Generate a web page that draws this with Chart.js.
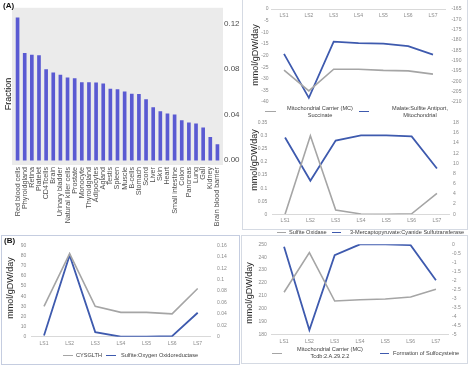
<!DOCTYPE html>
<html><head><meta charset="utf-8">
<script src="https://cdn.jsdelivr.net/npm/chart.js@4.4.1/dist/chart.umd.min.js"></script>
<style>
html,body{margin:0;padding:0;background:#fff;}
#wrap{position:relative;width:474px;height:366px;overflow:hidden;background:#fff;font-family:"Liberation Sans",Arial,sans-serif;}
canvas{position:absolute;}
.t{position:absolute;white-space:nowrap;color:#404040;font-size:5.6px;line-height:7px;}
.c{transform:translateX(-50%);text-align:center;}
.frame{position:absolute;box-sizing:border-box;border:1px solid #d5dae3;}
.rot{position:absolute;transform:translate(-50%,-50%) rotate(-90deg);white-space:nowrap;color:#262626;font-size:9px;line-height:10px;}
.ln{position:absolute;height:0;border-top:1.6px solid;}
.lab{position:absolute;font-weight:bold;font-size:8px;color:#111;}
</style></head>
<body>
<div id="wrap">
  <div class="frame" style="left:242px;top:-1px;width:226px;height:231px;"></div>
  <div class="frame" style="left:1px;top:235px;width:239px;height:130px;border-color:#c5cde0;"></div>
  <div class="frame" style="left:241px;top:235px;width:227px;height:129px;"></div>

  <canvas id="cA"></canvas>
  <canvas id="c1"></canvas>
  <canvas id="c2"></canvas>
  <canvas id="cB"></canvas>
  <canvas id="c3"></canvas>

  <div class="lab" style="left:3px;top:1px;">(A)</div>
  <div class="lab" style="left:4px;top:236px;">(B)</div>
  <div class="rot" style="left:8px;top:94px;color:#111;font-size:9px;">Fraction</div>
  <div class="rot" style="left:255px;top:55px;">mmol/gDW/day</div>
  <div class="rot" style="left:254px;top:160px;">mmol/gDW/day</div>
  <div class="rot" style="left:10px;top:288px;">mmol/gDW/day</div>
  <div class="rot" style="left:249px;top:293px;">mmol/gDW/day</div>

  <!-- legend panel 1 -->
  <div class="ln" style="left:265px;top:111px;width:11px;border-color:#a5a5a5;"></div>
  <div class="t c" style="left:320px;top:104.5px;">Mitochondrial Carrier (MC)<br>Succinate</div>
  <div class="ln" style="left:359px;top:111px;width:10px;border-color:#3e5aae;"></div>
  <div class="t c" style="left:420px;top:104.5px;">Malate:Sulfite Antiport,<br>Mitochondrial</div>
  <!-- legend panel 2 -->
  <div class="ln" style="left:277px;top:232px;width:9px;border-color:#a5a5a5;"></div>
  <div class="t" style="left:289px;top:229px;">Sulfite Oxidase</div>
  <div class="ln" style="left:332px;top:232px;width:9px;border-color:#3e5aae;"></div>
  <div class="t" style="left:350px;top:229px;">3-Mercaptopyruvate:Cyanide Sulfutransferase</div>
  <!-- legend panel B -->
  <div class="ln" style="left:63px;top:355px;width:10px;border-color:#a5a5a5;"></div>
  <div class="t" style="left:76px;top:352px;">CYSGLTH</div>
  <div class="ln" style="left:106px;top:355px;width:10px;border-color:#3e5aae;"></div>
  <div class="t" style="left:121px;top:352px;">Sulfite:Oxygen Oxidoreductase</div>
  <!-- legend panel 3 -->
  <div class="ln" style="left:272px;top:352.5px;width:10px;border-color:#a5a5a5;"></div>
  <div class="t c" style="left:330px;top:345.5px;">Mitochondrial Carrier (MC)<br>Tcdb:2.A.29.2.2</div>
  <div class="ln" style="left:380px;top:352.5px;width:9px;border-color:#3e5aae;"></div>
  <div class="t" style="left:393px;top:349.5px;">Formation of Sulfocysteine</div>
</div>
<script>
// ---- Panel A data ----
const tissues = ['Red blood cells','Phyroidgland','Retina','Platelet','CD4Tcells','Brain','Urinary bladder','Natural killer cells','Prostate','Monocyte','Thyroidgland','Adipocytes','Agland','Testis','Spleen','Muscle','B-cells','Stomach','Scord','Liver','Skin','Heart','Small intestine','Colon','Pancreas','Lung','Gall','Kidney','Brain blood barrier'];
const fraction = [0.1248,0.0936,0.0922,0.0916,0.0794,0.0766,0.0746,0.0721,0.0715,0.0681,0.0681,0.0678,0.0670,0.0624,0.0619,0.0599,0.0579,0.0576,0.0530,0.0460,0.0426,0.0406,0.0397,0.0346,0.0326,0.0318,0.0284,0.0199,0.0136];
const fractionTicks = [0, 0.04, 0.08, 0.12];

// ---- line panels data ----
const stages = ['LS1','LS2','LS3','LS4','LS5','LS6','LS7'];
const mcSuccinate   = [-26.3,-35.2,-25.9,-25.9,-26.4,-26.6,-28.0];
const malateSulfite = [-186.7,-208.0,-180.8,-181.5,-181.8,-183.0,-187.1];
const sulfiteOxidase = [0.0,0.30,0.016,0.001,0.0,0.002,0.08];
const mercaptoSulfur = [15.1,6.6,14.5,15.5,15.5,15.3,9.0];
const cysglth    = [30,82,30,24,24,22.5,47.6];
const sulfiteOxy = [0.002,0.143,0.008,0.0,0.0,0.001,0.042];
const mcTcdb        = [212.7,243.5,205.9,206.9,207.5,209.0,215.0];
const sulfocysteine = [-0.13,-4.76,-0.6,0.0,0.0,-0.05,-2.0];

const GRAY='#a5a5a5', BLUE='#3e5aae';
const FAM='"Liberation Sans", Arial, sans-serif';
const TICK_FONT={family:FAM,size:5};
const TICK_COLOR='#8a8a8a';
const fmt = v => String(Math.round(v*10000)/10000);

function place(id, box){
  const c=document.getElementById(id);
  c.style.left=box[0]+'px'; c.style.top=box[1]+'px';
  c.width=box[2]; c.height=box[3];
  return c;
}

function lineChart(id, box, area, s1, s2, left, right, xTop, xPad){
  const [cx,cy,cw,ch]=box; const [L,T,R,B]=area;
  const c=place(id,box);
  return new Chart(c,{type:'line',
    data:{labels:stages,datasets:[
      {data:s1,borderColor:GRAY,borderWidth:1.6,pointRadius:0,yAxisID:'y',fill:false,tension:0},
      {data:s2,borderColor:BLUE,borderWidth:1.8,pointRadius:0,yAxisID:'y1',fill:false,tension:0}]},
    options:{responsive:false,animation:false,devicePixelRatio:1,
      layout:{padding:{left:0,right:0,top:T-cy,bottom:xTop?(cy+ch-B):0}},
      plugins:{legend:{display:false},tooltip:{enabled:false}},
      scales:{
        x:{position: xTop?{y:0}:'bottom', offset:true,
           grid:{display:false,drawTicks:false},
           border:{display:true,color:'#d9d9d9',width:1},
           ticks:{font:TICK_FONT,color:TICK_COLOR,padding:xPad,maxRotation:0,minRotation:0,autoSkip:false},
           afterFit:s=>{ if(!xTop) s.height=cy+ch-B; }},
        y:{position:'left',min:left.min,max:left.max,
           ticks:{stepSize:left.step,font:TICK_FONT,color:TICK_COLOR,padding:left.pad,callback:fmt},
           grid:{display:false,drawTicks:false},border:{display:false},
           afterFit:s=>{s.width=L-cx;}},
        y1:{position:'right',min:right.min,max:right.max,
           ticks:{stepSize:right.step,font:TICK_FONT,color:TICK_COLOR,padding:right.pad,callback:fmt},
           grid:{display:false,drawTicks:false},border:{display:false},
           afterFit:s=>{s.width=cx+cw-R;}}
      }}});
}

// Panel A bar chart
const bgPlugin={id:'bg',beforeDraw(ch){const a=ch.chartArea,x=ch.ctx;x.save();x.fillStyle='#ebebeb';x.fillRect(a.left-2,a.top,a.right-a.left+4,a.bottom-a.top);x.restore();}};
(function(){
  const box=[0,0,240,230]; const L=14, R=221, T=3, B=165;
  const c=place('cA',box);
  new Chart(c,{type:'bar',
    data:{labels:tissues,datasets:[{data:fraction,backgroundColor:'#5a5ad2',barThickness:3}]},
    options:{responsive:false,animation:false,devicePixelRatio:1,
      layout:{padding:{left:L,top:T,right:0,bottom:0}},
      plugins:{legend:{display:false},tooltip:{enabled:false}},
      scales:{
        x:{offset:true,grid:{display:false,drawTicks:false},border:{display:false},
           ticks:{minRotation:90,maxRotation:90,autoSkip:false,padding:2,color:'#4d4d4d',font:{family:FAM,size:7.2}},
           afterFit:s=>{s.height=230-B;}},
        y:{position:'right',min:-0.0043,max:0.1336,
           afterBuildTicks:s=>{s.ticks=fractionTicks.map(v=>({value:v}));},
           ticks:{padding:3,color:'#4d4d4d',font:{family:FAM,size:8},callback:v=>v.toFixed(2)},
           grid:{display:false,drawTicks:false},border:{display:false},
           afterFit:s=>{s.width=240-R;}}
      }},
    plugins:[bgPlugin]});
})();

lineChart('c1',[240,0,230,112],[271.6,3,445.4,102],mcSuccinate,malateSulfite,
  {min:-40,max:0,step:5,pad:3},{min:-210,max:-165,step:5,pad:6},true,4);
lineChart('c2',[240,112,230,120],[272.4,122.7,449.6,214.3],sulfiteOxidase,mercaptoSulfur,
  {min:0,max:0.35,step:0.05,pad:5},{min:0,max:18,step:2,pad:3.5},false,3);
lineChart('cB',[0,236,240,130],[31.2,243.3,210.5,336.7],cysglth,sulfiteOxy,
  {min:0,max:90,step:10,pad:5},{min:0,max:0.16,step:0.02,pad:6.5},false,4);
lineChart('c3',[240,236,230,130],[271.4,244.3,448.6,334.3],mcTcdb,sulfocysteine,
  {min:180,max:250,step:10,pad:4.5},{min:-5,max:0,step:0.5,pad:3.5},false,4);
</script>
</body></html>
